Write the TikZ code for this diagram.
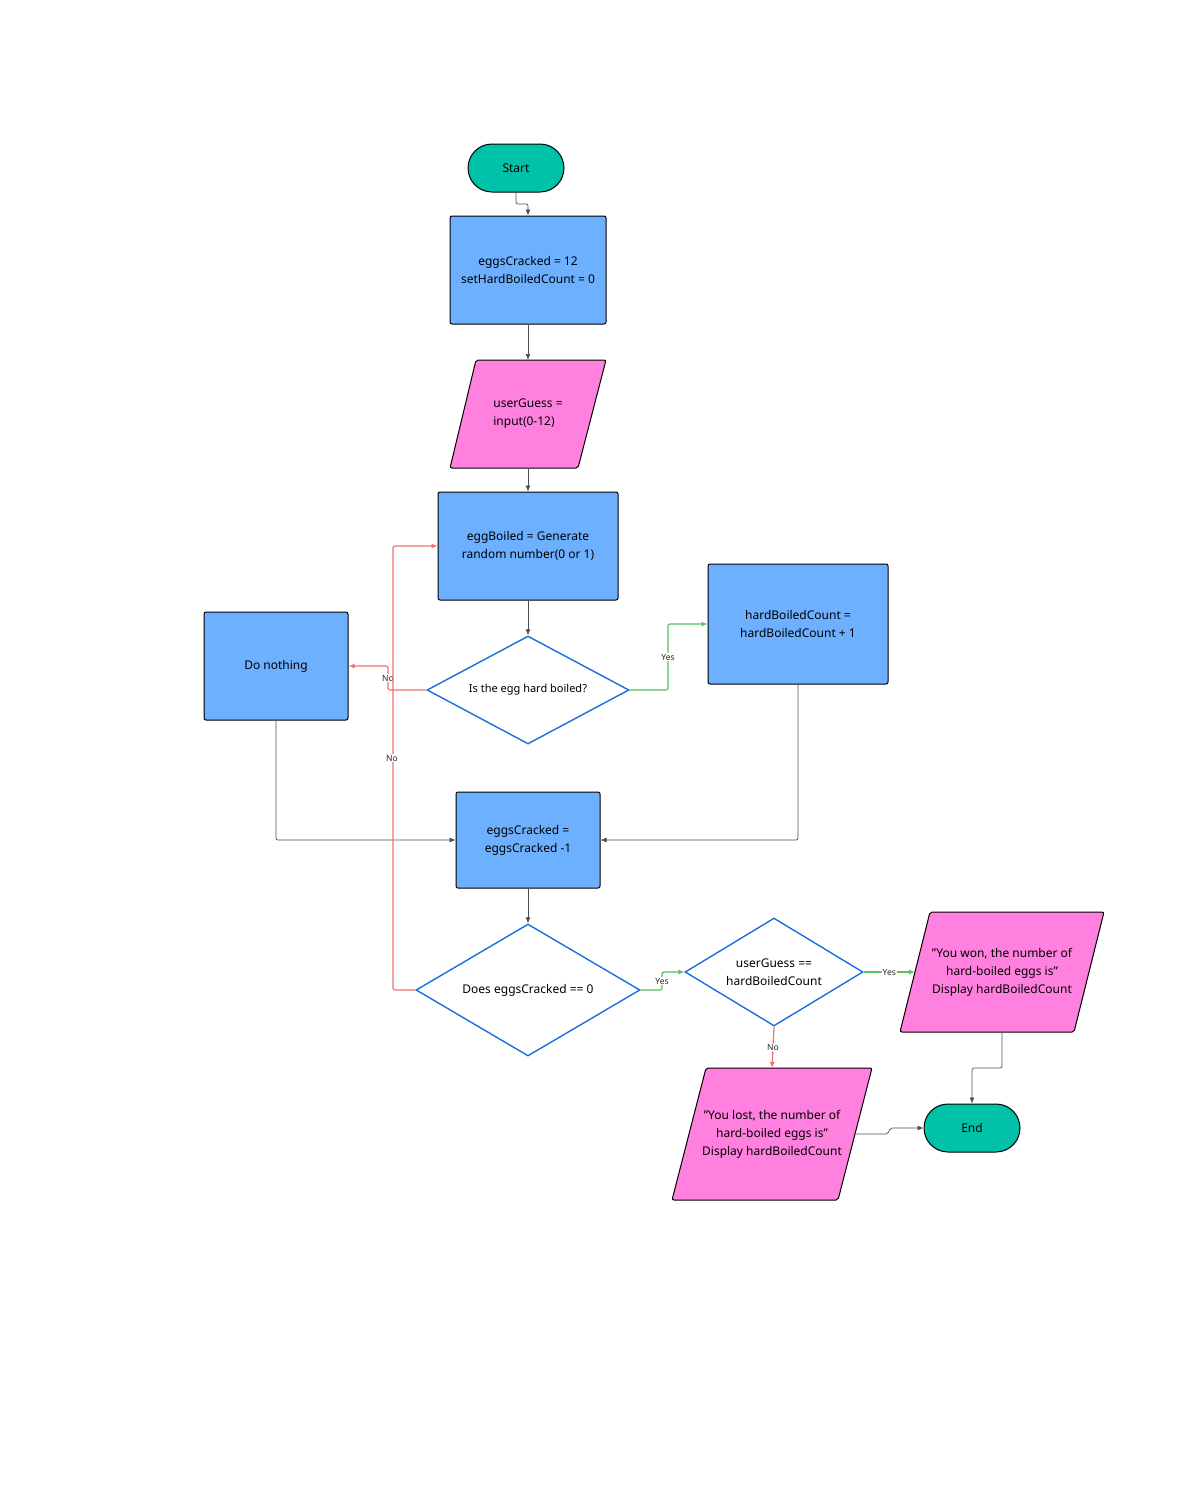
\documentclass[tikz,border=0pt]{standalone}
\usepackage{fontspec}
\setmainfont{Noto Sans}
\usetikzlibrary{shapes.geometric,arrows.meta}
\definecolor{teal}{HTML}{00C2A8}
\definecolor{bl}{HTML}{6CB0FF}
\definecolor{pk}{HTML}{FF80DF}
\definecolor{db}{HTML}{1A6FE0}
\definecolor{gr}{HTML}{55C25A}
\definecolor{rd}{HTML}{F07070}
\definecolor{ln}{HTML}{4A4F57}
\begin{document}
\begin{tikzpicture}[x=1pt,y=-1pt,
 txt/.style={font=\fontsize{12}{18}\selectfont,align=center},
 box/.style={draw=black,line width=1pt,fill=bl,rounded corners=2pt,txt},
 term/.style={draw=black,line width=1pt,fill=teal,rounded corners=24pt,txt,minimum width=96pt,minimum height=48pt},
 dia/.style={diamond,draw=db,line width=1.4pt,fill=white,aspect=1.87,inner sep=0pt,txt},
 para/.style={draw=black,line width=1pt,fill=pk,rounded corners=2pt},
 arr/.style={draw=ln,line width=0.7pt,-{Latex[length=6pt,width=5pt]},rounded corners=2pt},
 yes/.style={arr,draw=gr,line width=1.2pt},
 no/.style={arr,draw=rd,line width=1.2pt},
 lab/.style={fill=white,inner sep=1pt,font=\bfseries\fontsize{8.5}{10}\selectfont,text=black!85}]
\useasboundingbox (0,0) rectangle (1200,1500);
\node[term] (start) at (516,168) {Start};
\node[box,minimum width=156pt,minimum height=108pt] (b1) at (528,270) {eggsCracked = 12\\setHardBoiledCount = 0};
\draw[para] (476,360)--(606,360)--(578,468)--(450,468)--cycle;
\node[txt,align=left] (p1) at (528,414) {userGuess =\\input(0-12)};
\coordinate (p1n) at (528,360); \coordinate (p1s) at (528,468);
\node[box,minimum width=180pt,minimum height=108pt] (b2) at (528,546) {eggBoiled = Generate\\random number(0 or 1)};
\node[dia,minimum width=202pt,minimum height=108pt,font=\fontsize{11}{14}\selectfont] (d1) at (528,690) {Is the egg hard boiled?};
\node[box,minimum width=144pt,minimum height=108pt] (dn) at (276,666) {Do nothing};
\node[box,minimum width=180pt,minimum height=120pt] (hb) at (798,624) {hardBoiledCount =\\hardBoiledCount + 1};
\node[box,minimum width=144pt,minimum height=96pt] (ec) at (528,840) {eggsCracked =\\eggsCracked -1};
\node[dia,minimum width=224pt,minimum height=132pt] (d2) at (528,990) {Does eggsCracked == 0};
\node[dia,minimum width=178pt,minimum height=108pt] (d3) at (774,972) {userGuess ==\\hardBoiledCount};
\draw[para] (930,912)--(1104,912)--(1074,1032)--(900,1032)--cycle;
\node[txt] (pw) at (1002,972) {"You won, the number of\\hard-boiled eggs is"\\Display hardBoiledCount};
\coordinate (pwl) at (915,972); \coordinate (pws) at (1002,1032);
\draw[para] (706,1068)--(872,1068)--(838,1200)--(672,1200)--cycle;
\node[txt] (pl) at (772,1134) {"You lost, the number of\\hard-boiled eggs is"\\Display hardBoiledCount};
\coordinate (pln) at (772,1068); \coordinate (plr) at (856,1134);
\node[term] (end) at (972,1128) {End};

\draw[arr] (start.south) -- (516,204) -- (528,204) -- (b1.north);
\draw[arr] (b1.south) -- (p1n);
\draw[arr] (p1s) -- (b2.north);
\draw[arr] (b2.south) -- (d1.north);
\draw[yes] (d1.east) -| (668,624) node[lab,pos=0.75] {Yes} -- (hb.west);
\draw[no] (d1.west) -- (388,690) |- (dn.east);
\node[lab] at (388,678) {No};
\draw[arr] (dn.south) |- (ec.west);
\draw[arr] (hb.south) |- (ec.east);
\draw[arr] (ec.south) -- (d2.north);
\draw[no] (d2.west) -- (393,990) |- (b2.west);
\node[lab] at (392,758) {No};
\draw[yes] (d2.east) -- (662,990) |- (d3.west);
\node[lab] at (662,981) {Yes};
\draw[yes] (d3.east) -- node[lab] {Yes} (pwl);
\draw[no] (d3.south) -- node[lab] {No} (pln);
\draw[arr] (pws) -- (1002,1068) -- (972,1068) -- (end.north);
\draw[arr] (plr) -- (888,1134) -- (890,1128) -- (end.west);
\end{tikzpicture}
\end{document}
